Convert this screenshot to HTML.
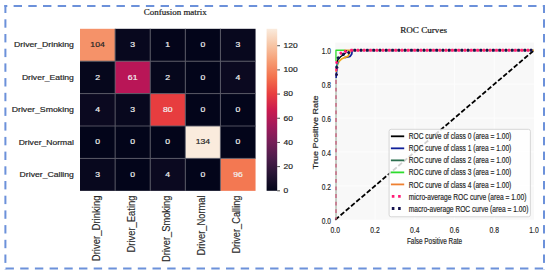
<!DOCTYPE html>
<html><head><meta charset="utf-8"><style>
html,body{margin:0;padding:0;background:#fff;width:550px;height:274px;overflow:hidden}
svg{display:block}
</style></head><body>
<svg width="550" height="274" viewBox="0 0 550 274">
<rect x="0" y="0" width="550" height="274" fill="#ffffff"/>
<rect x="4.40" y="5.00" width="2.90" height="2.0" fill="#6c91da"/>
<rect x="13.60" y="5.00" width="8.40" height="2.0" fill="#6c91da"/>
<rect x="28.30" y="5.00" width="8.40" height="2.0" fill="#6c91da"/>
<rect x="43.00" y="5.00" width="8.40" height="2.0" fill="#6c91da"/>
<rect x="57.70" y="5.00" width="8.40" height="2.0" fill="#6c91da"/>
<rect x="72.40" y="5.00" width="8.40" height="2.0" fill="#6c91da"/>
<rect x="87.10" y="5.00" width="8.40" height="2.0" fill="#6c91da"/>
<rect x="101.80" y="5.00" width="8.40" height="2.0" fill="#6c91da"/>
<rect x="116.50" y="5.00" width="8.40" height="2.0" fill="#6c91da"/>
<rect x="131.20" y="5.00" width="8.40" height="2.0" fill="#6c91da"/>
<rect x="145.90" y="5.00" width="8.40" height="2.0" fill="#6c91da"/>
<rect x="160.60" y="5.00" width="8.40" height="2.0" fill="#6c91da"/>
<rect x="175.30" y="5.00" width="8.40" height="2.0" fill="#6c91da"/>
<rect x="190.00" y="5.00" width="8.40" height="2.0" fill="#6c91da"/>
<rect x="204.70" y="5.00" width="8.40" height="2.0" fill="#6c91da"/>
<rect x="219.40" y="5.00" width="8.40" height="2.0" fill="#6c91da"/>
<rect x="234.10" y="5.00" width="8.40" height="2.0" fill="#6c91da"/>
<rect x="248.80" y="5.00" width="8.40" height="2.0" fill="#6c91da"/>
<rect x="263.50" y="5.00" width="8.40" height="2.0" fill="#6c91da"/>
<rect x="278.20" y="5.00" width="8.40" height="2.0" fill="#6c91da"/>
<rect x="292.90" y="5.00" width="8.40" height="2.0" fill="#6c91da"/>
<rect x="307.60" y="5.00" width="8.40" height="2.0" fill="#6c91da"/>
<rect x="322.30" y="5.00" width="8.40" height="2.0" fill="#6c91da"/>
<rect x="337.00" y="5.00" width="8.40" height="2.0" fill="#6c91da"/>
<rect x="351.70" y="5.00" width="8.40" height="2.0" fill="#6c91da"/>
<rect x="366.40" y="5.00" width="8.40" height="2.0" fill="#6c91da"/>
<rect x="381.10" y="5.00" width="8.40" height="2.0" fill="#6c91da"/>
<rect x="395.80" y="5.00" width="8.40" height="2.0" fill="#6c91da"/>
<rect x="410.50" y="5.00" width="8.40" height="2.0" fill="#6c91da"/>
<rect x="425.20" y="5.00" width="8.40" height="2.0" fill="#6c91da"/>
<rect x="439.90" y="5.00" width="8.40" height="2.0" fill="#6c91da"/>
<rect x="454.60" y="5.00" width="8.40" height="2.0" fill="#6c91da"/>
<rect x="469.30" y="5.00" width="8.40" height="2.0" fill="#6c91da"/>
<rect x="484.00" y="5.00" width="8.40" height="2.0" fill="#6c91da"/>
<rect x="498.70" y="5.00" width="8.40" height="2.0" fill="#6c91da"/>
<rect x="513.40" y="5.00" width="8.40" height="2.0" fill="#6c91da"/>
<rect x="528.10" y="5.00" width="8.40" height="2.0" fill="#6c91da"/>
<rect x="542.80" y="5.00" width="2.20" height="2.0" fill="#6c91da"/>
<rect x="5.50" y="267.50" width="8.40" height="2.0" fill="#6c91da"/>
<rect x="20.20" y="267.50" width="8.40" height="2.0" fill="#6c91da"/>
<rect x="34.90" y="267.50" width="8.40" height="2.0" fill="#6c91da"/>
<rect x="49.60" y="267.50" width="8.40" height="2.0" fill="#6c91da"/>
<rect x="64.30" y="267.50" width="8.40" height="2.0" fill="#6c91da"/>
<rect x="79.00" y="267.50" width="8.40" height="2.0" fill="#6c91da"/>
<rect x="93.70" y="267.50" width="8.40" height="2.0" fill="#6c91da"/>
<rect x="108.40" y="267.50" width="8.40" height="2.0" fill="#6c91da"/>
<rect x="123.10" y="267.50" width="8.40" height="2.0" fill="#6c91da"/>
<rect x="137.80" y="267.50" width="8.40" height="2.0" fill="#6c91da"/>
<rect x="152.50" y="267.50" width="8.40" height="2.0" fill="#6c91da"/>
<rect x="167.20" y="267.50" width="8.40" height="2.0" fill="#6c91da"/>
<rect x="181.90" y="267.50" width="8.40" height="2.0" fill="#6c91da"/>
<rect x="196.60" y="267.50" width="8.40" height="2.0" fill="#6c91da"/>
<rect x="211.30" y="267.50" width="8.40" height="2.0" fill="#6c91da"/>
<rect x="226.00" y="267.50" width="8.40" height="2.0" fill="#6c91da"/>
<rect x="240.70" y="267.50" width="8.40" height="2.0" fill="#6c91da"/>
<rect x="255.40" y="267.50" width="8.40" height="2.0" fill="#6c91da"/>
<rect x="270.10" y="267.50" width="8.40" height="2.0" fill="#6c91da"/>
<rect x="284.80" y="267.50" width="8.40" height="2.0" fill="#6c91da"/>
<rect x="299.50" y="267.50" width="8.40" height="2.0" fill="#6c91da"/>
<rect x="314.20" y="267.50" width="8.40" height="2.0" fill="#6c91da"/>
<rect x="328.90" y="267.50" width="8.40" height="2.0" fill="#6c91da"/>
<rect x="343.60" y="267.50" width="8.40" height="2.0" fill="#6c91da"/>
<rect x="358.30" y="267.50" width="8.40" height="2.0" fill="#6c91da"/>
<rect x="373.00" y="267.50" width="8.40" height="2.0" fill="#6c91da"/>
<rect x="387.70" y="267.50" width="8.40" height="2.0" fill="#6c91da"/>
<rect x="402.40" y="267.50" width="8.40" height="2.0" fill="#6c91da"/>
<rect x="417.10" y="267.50" width="8.40" height="2.0" fill="#6c91da"/>
<rect x="431.80" y="267.50" width="8.40" height="2.0" fill="#6c91da"/>
<rect x="446.50" y="267.50" width="8.40" height="2.0" fill="#6c91da"/>
<rect x="461.20" y="267.50" width="8.40" height="2.0" fill="#6c91da"/>
<rect x="475.90" y="267.50" width="8.40" height="2.0" fill="#6c91da"/>
<rect x="490.60" y="267.50" width="8.40" height="2.0" fill="#6c91da"/>
<rect x="505.30" y="267.50" width="8.40" height="2.0" fill="#6c91da"/>
<rect x="520.00" y="267.50" width="8.40" height="2.0" fill="#6c91da"/>
<rect x="534.70" y="267.50" width="8.40" height="2.0" fill="#6c91da"/>
<rect x="4.40" y="5.00" width="2.0" height="8.00" fill="#6c91da"/>
<rect x="4.40" y="19.30" width="2.0" height="8.40" fill="#6c91da"/>
<rect x="4.40" y="34.00" width="2.0" height="8.40" fill="#6c91da"/>
<rect x="4.40" y="48.70" width="2.0" height="8.40" fill="#6c91da"/>
<rect x="4.40" y="63.40" width="2.0" height="8.40" fill="#6c91da"/>
<rect x="4.40" y="78.10" width="2.0" height="8.40" fill="#6c91da"/>
<rect x="4.40" y="92.80" width="2.0" height="8.40" fill="#6c91da"/>
<rect x="4.40" y="107.50" width="2.0" height="8.40" fill="#6c91da"/>
<rect x="4.40" y="122.20" width="2.0" height="8.40" fill="#6c91da"/>
<rect x="4.40" y="136.90" width="2.0" height="8.40" fill="#6c91da"/>
<rect x="4.40" y="151.60" width="2.0" height="8.40" fill="#6c91da"/>
<rect x="4.40" y="166.30" width="2.0" height="8.40" fill="#6c91da"/>
<rect x="4.40" y="181.00" width="2.0" height="8.40" fill="#6c91da"/>
<rect x="4.40" y="195.70" width="2.0" height="8.40" fill="#6c91da"/>
<rect x="4.40" y="210.40" width="2.0" height="8.40" fill="#6c91da"/>
<rect x="4.40" y="225.10" width="2.0" height="8.40" fill="#6c91da"/>
<rect x="4.40" y="239.80" width="2.0" height="8.40" fill="#6c91da"/>
<rect x="4.40" y="254.50" width="2.0" height="8.40" fill="#6c91da"/>
<rect x="4.40" y="269.20" width="2.0" height="0.30" fill="#6c91da"/>
<rect x="543.00" y="5.00" width="2.0" height="8.00" fill="#6c91da"/>
<rect x="543.00" y="19.30" width="2.0" height="8.40" fill="#6c91da"/>
<rect x="543.00" y="34.00" width="2.0" height="8.40" fill="#6c91da"/>
<rect x="543.00" y="48.70" width="2.0" height="8.40" fill="#6c91da"/>
<rect x="543.00" y="63.40" width="2.0" height="8.40" fill="#6c91da"/>
<rect x="543.00" y="78.10" width="2.0" height="8.40" fill="#6c91da"/>
<rect x="543.00" y="92.80" width="2.0" height="8.40" fill="#6c91da"/>
<rect x="543.00" y="107.50" width="2.0" height="8.40" fill="#6c91da"/>
<rect x="543.00" y="122.20" width="2.0" height="8.40" fill="#6c91da"/>
<rect x="543.00" y="136.90" width="2.0" height="8.40" fill="#6c91da"/>
<rect x="543.00" y="151.60" width="2.0" height="8.40" fill="#6c91da"/>
<rect x="543.00" y="166.30" width="2.0" height="8.40" fill="#6c91da"/>
<rect x="543.00" y="181.00" width="2.0" height="8.40" fill="#6c91da"/>
<rect x="543.00" y="195.70" width="2.0" height="8.40" fill="#6c91da"/>
<rect x="543.00" y="210.40" width="2.0" height="8.40" fill="#6c91da"/>
<rect x="543.00" y="225.10" width="2.0" height="8.40" fill="#6c91da"/>
<rect x="543.00" y="239.80" width="2.0" height="8.40" fill="#6c91da"/>
<rect x="543.00" y="254.50" width="2.0" height="8.40" fill="#6c91da"/>
<rect x="543.00" y="269.20" width="2.0" height="0.30" fill="#6c91da"/>
<rect x="80.00" y="28.80" width="35.15" height="32.45" fill="#f59269"/>
<rect x="115.10" y="28.80" width="35.15" height="32.45" fill="#08081e"/>
<rect x="150.20" y="28.80" width="35.15" height="32.45" fill="#04051a"/>
<rect x="185.30" y="28.80" width="35.15" height="32.45" fill="#03051a"/>
<rect x="220.40" y="28.80" width="35.15" height="32.45" fill="#08081e"/>
<rect x="80.00" y="61.20" width="35.15" height="32.45" fill="#06071c"/>
<rect x="115.10" y="61.20" width="35.15" height="32.45" fill="#b91657"/>
<rect x="150.20" y="61.20" width="35.15" height="32.45" fill="#06071c"/>
<rect x="185.30" y="61.20" width="35.15" height="32.45" fill="#03051a"/>
<rect x="220.40" y="61.20" width="35.15" height="32.45" fill="#0b0920"/>
<rect x="80.00" y="93.60" width="35.15" height="32.45" fill="#0b0920"/>
<rect x="115.10" y="93.60" width="35.15" height="32.45" fill="#08081e"/>
<rect x="150.20" y="93.60" width="35.15" height="32.45" fill="#e73d3f"/>
<rect x="185.30" y="93.60" width="35.15" height="32.45" fill="#03051a"/>
<rect x="220.40" y="93.60" width="35.15" height="32.45" fill="#03051a"/>
<rect x="80.00" y="126.00" width="35.15" height="32.45" fill="#03051a"/>
<rect x="115.10" y="126.00" width="35.15" height="32.45" fill="#03051a"/>
<rect x="150.20" y="126.00" width="35.15" height="32.45" fill="#03051a"/>
<rect x="185.30" y="126.00" width="35.15" height="32.45" fill="#faebdd"/>
<rect x="220.40" y="126.00" width="35.15" height="32.45" fill="#03051a"/>
<rect x="80.00" y="158.40" width="35.15" height="32.45" fill="#08081e"/>
<rect x="115.10" y="158.40" width="35.15" height="32.45" fill="#03051a"/>
<rect x="150.20" y="158.40" width="35.15" height="32.45" fill="#0b0920"/>
<rect x="185.30" y="158.40" width="35.15" height="32.45" fill="#03051a"/>
<rect x="220.40" y="158.40" width="35.15" height="32.45" fill="#f37852"/>
<line x1="115.10" y1="28.8" x2="115.10" y2="190.80" stroke="#5a5a66" stroke-width="0.9"/>
<line x1="150.20" y1="28.8" x2="150.20" y2="190.80" stroke="#5a5a66" stroke-width="0.9"/>
<line x1="185.30" y1="28.8" x2="185.30" y2="190.80" stroke="#5a5a66" stroke-width="0.9"/>
<line x1="220.40" y1="28.8" x2="220.40" y2="190.80" stroke="#5a5a66" stroke-width="0.9"/>
<line x1="80.0" y1="61.20" x2="255.50" y2="61.20" stroke="#5a5a66" stroke-width="0.9"/>
<line x1="80.0" y1="93.60" x2="255.50" y2="93.60" stroke="#5a5a66" stroke-width="0.9"/>
<line x1="80.0" y1="126.00" x2="255.50" y2="126.00" stroke="#5a5a66" stroke-width="0.9"/>
<line x1="80.0" y1="158.40" x2="255.50" y2="158.40" stroke="#5a5a66" stroke-width="0.9"/>
<text x="97.55" y="47.20" text-anchor="middle" style="font-family:&quot;Liberation Sans&quot;,sans-serif;font-size:7.3px;font-weight:normal" fill="#262626" stroke="#262626" stroke-width="0.18" textLength="14.40" lengthAdjust="spacingAndGlyphs">104</text>
<text x="132.65" y="47.20" text-anchor="middle" style="font-family:&quot;Liberation Sans&quot;,sans-serif;font-size:7.3px;font-weight:normal" fill="#f2f2f2" stroke="#f2f2f2" stroke-width="0.18" textLength="4.80" lengthAdjust="spacingAndGlyphs">3</text>
<text x="167.75" y="47.20" text-anchor="middle" style="font-family:&quot;Liberation Sans&quot;,sans-serif;font-size:7.3px;font-weight:normal" fill="#f2f2f2" stroke="#f2f2f2" stroke-width="0.18" textLength="4.80" lengthAdjust="spacingAndGlyphs">1</text>
<text x="202.85" y="47.20" text-anchor="middle" style="font-family:&quot;Liberation Sans&quot;,sans-serif;font-size:7.3px;font-weight:normal" fill="#f2f2f2" stroke="#f2f2f2" stroke-width="0.18" textLength="4.80" lengthAdjust="spacingAndGlyphs">0</text>
<text x="237.95" y="47.20" text-anchor="middle" style="font-family:&quot;Liberation Sans&quot;,sans-serif;font-size:7.3px;font-weight:normal" fill="#f2f2f2" stroke="#f2f2f2" stroke-width="0.18" textLength="4.80" lengthAdjust="spacingAndGlyphs">3</text>
<text x="97.55" y="79.60" text-anchor="middle" style="font-family:&quot;Liberation Sans&quot;,sans-serif;font-size:7.3px;font-weight:normal" fill="#f2f2f2" stroke="#f2f2f2" stroke-width="0.18" textLength="4.80" lengthAdjust="spacingAndGlyphs">2</text>
<text x="132.65" y="79.60" text-anchor="middle" style="font-family:&quot;Liberation Sans&quot;,sans-serif;font-size:7.3px;font-weight:normal" fill="#f2f2f2" stroke="#f2f2f2" stroke-width="0.18" textLength="9.60" lengthAdjust="spacingAndGlyphs">61</text>
<text x="167.75" y="79.60" text-anchor="middle" style="font-family:&quot;Liberation Sans&quot;,sans-serif;font-size:7.3px;font-weight:normal" fill="#f2f2f2" stroke="#f2f2f2" stroke-width="0.18" textLength="4.80" lengthAdjust="spacingAndGlyphs">2</text>
<text x="202.85" y="79.60" text-anchor="middle" style="font-family:&quot;Liberation Sans&quot;,sans-serif;font-size:7.3px;font-weight:normal" fill="#f2f2f2" stroke="#f2f2f2" stroke-width="0.18" textLength="4.80" lengthAdjust="spacingAndGlyphs">0</text>
<text x="237.95" y="79.60" text-anchor="middle" style="font-family:&quot;Liberation Sans&quot;,sans-serif;font-size:7.3px;font-weight:normal" fill="#f2f2f2" stroke="#f2f2f2" stroke-width="0.18" textLength="4.80" lengthAdjust="spacingAndGlyphs">4</text>
<text x="97.55" y="112.00" text-anchor="middle" style="font-family:&quot;Liberation Sans&quot;,sans-serif;font-size:7.3px;font-weight:normal" fill="#f2f2f2" stroke="#f2f2f2" stroke-width="0.18" textLength="4.80" lengthAdjust="spacingAndGlyphs">4</text>
<text x="132.65" y="112.00" text-anchor="middle" style="font-family:&quot;Liberation Sans&quot;,sans-serif;font-size:7.3px;font-weight:normal" fill="#f2f2f2" stroke="#f2f2f2" stroke-width="0.18" textLength="4.80" lengthAdjust="spacingAndGlyphs">3</text>
<text x="167.75" y="112.00" text-anchor="middle" style="font-family:&quot;Liberation Sans&quot;,sans-serif;font-size:7.3px;font-weight:normal" fill="#f2f2f2" stroke="#f2f2f2" stroke-width="0.18" textLength="9.60" lengthAdjust="spacingAndGlyphs">80</text>
<text x="202.85" y="112.00" text-anchor="middle" style="font-family:&quot;Liberation Sans&quot;,sans-serif;font-size:7.3px;font-weight:normal" fill="#f2f2f2" stroke="#f2f2f2" stroke-width="0.18" textLength="4.80" lengthAdjust="spacingAndGlyphs">0</text>
<text x="237.95" y="112.00" text-anchor="middle" style="font-family:&quot;Liberation Sans&quot;,sans-serif;font-size:7.3px;font-weight:normal" fill="#f2f2f2" stroke="#f2f2f2" stroke-width="0.18" textLength="4.80" lengthAdjust="spacingAndGlyphs">0</text>
<text x="97.55" y="144.40" text-anchor="middle" style="font-family:&quot;Liberation Sans&quot;,sans-serif;font-size:7.3px;font-weight:normal" fill="#f2f2f2" stroke="#f2f2f2" stroke-width="0.18" textLength="4.80" lengthAdjust="spacingAndGlyphs">0</text>
<text x="132.65" y="144.40" text-anchor="middle" style="font-family:&quot;Liberation Sans&quot;,sans-serif;font-size:7.3px;font-weight:normal" fill="#f2f2f2" stroke="#f2f2f2" stroke-width="0.18" textLength="4.80" lengthAdjust="spacingAndGlyphs">0</text>
<text x="167.75" y="144.40" text-anchor="middle" style="font-family:&quot;Liberation Sans&quot;,sans-serif;font-size:7.3px;font-weight:normal" fill="#f2f2f2" stroke="#f2f2f2" stroke-width="0.18" textLength="4.80" lengthAdjust="spacingAndGlyphs">0</text>
<text x="202.85" y="144.40" text-anchor="middle" style="font-family:&quot;Liberation Sans&quot;,sans-serif;font-size:7.3px;font-weight:normal" fill="#262626" stroke="#262626" stroke-width="0.18" textLength="14.40" lengthAdjust="spacingAndGlyphs">134</text>
<text x="237.95" y="144.40" text-anchor="middle" style="font-family:&quot;Liberation Sans&quot;,sans-serif;font-size:7.3px;font-weight:normal" fill="#f2f2f2" stroke="#f2f2f2" stroke-width="0.18" textLength="4.80" lengthAdjust="spacingAndGlyphs">0</text>
<text x="97.55" y="176.80" text-anchor="middle" style="font-family:&quot;Liberation Sans&quot;,sans-serif;font-size:7.3px;font-weight:normal" fill="#f2f2f2" stroke="#f2f2f2" stroke-width="0.18" textLength="4.80" lengthAdjust="spacingAndGlyphs">3</text>
<text x="132.65" y="176.80" text-anchor="middle" style="font-family:&quot;Liberation Sans&quot;,sans-serif;font-size:7.3px;font-weight:normal" fill="#f2f2f2" stroke="#f2f2f2" stroke-width="0.18" textLength="4.80" lengthAdjust="spacingAndGlyphs">0</text>
<text x="167.75" y="176.80" text-anchor="middle" style="font-family:&quot;Liberation Sans&quot;,sans-serif;font-size:7.3px;font-weight:normal" fill="#f2f2f2" stroke="#f2f2f2" stroke-width="0.18" textLength="4.80" lengthAdjust="spacingAndGlyphs">4</text>
<text x="202.85" y="176.80" text-anchor="middle" style="font-family:&quot;Liberation Sans&quot;,sans-serif;font-size:7.3px;font-weight:normal" fill="#f2f2f2" stroke="#f2f2f2" stroke-width="0.18" textLength="4.80" lengthAdjust="spacingAndGlyphs">0</text>
<text x="237.95" y="176.80" text-anchor="middle" style="font-family:&quot;Liberation Sans&quot;,sans-serif;font-size:7.3px;font-weight:normal" fill="#f2f2f2" stroke="#f2f2f2" stroke-width="0.18" textLength="9.60" lengthAdjust="spacingAndGlyphs">96</text>
<text x="14.10" y="47.45" text-anchor="start" style="font-family:&quot;Liberation Sans&quot;,sans-serif;font-size:7.1px;font-weight:normal" fill="#262626" stroke="#262626" stroke-width="0.18" textLength="59.80" lengthAdjust="spacingAndGlyphs">Driver_Drinking</text>
<text x="21.90" y="79.85" text-anchor="start" style="font-family:&quot;Liberation Sans&quot;,sans-serif;font-size:7.1px;font-weight:normal" fill="#262626" stroke="#262626" stroke-width="0.18" textLength="52.00" lengthAdjust="spacingAndGlyphs">Driver_Eating</text>
<text x="11.70" y="112.25" text-anchor="start" style="font-family:&quot;Liberation Sans&quot;,sans-serif;font-size:7.1px;font-weight:normal" fill="#262626" stroke="#262626" stroke-width="0.18" textLength="62.20" lengthAdjust="spacingAndGlyphs">Driver_Smoking</text>
<text x="18.70" y="144.65" text-anchor="start" style="font-family:&quot;Liberation Sans&quot;,sans-serif;font-size:7.1px;font-weight:normal" fill="#262626" stroke="#262626" stroke-width="0.18" textLength="55.20" lengthAdjust="spacingAndGlyphs">Driver_Normal</text>
<text x="19.60" y="177.05" text-anchor="start" style="font-family:&quot;Liberation Sans&quot;,sans-serif;font-size:7.1px;font-weight:normal" fill="#262626" stroke="#262626" stroke-width="0.18" textLength="54.30" lengthAdjust="spacingAndGlyphs">Driver_Calling</text>
<text transform="translate(99.95,261.20) rotate(-90)" x="0" y="0" style="font-family:&quot;Liberation Sans&quot;,sans-serif;font-size:10.3px" fill="#262626" stroke="#262626" stroke-width="0.12" textLength="65.70" lengthAdjust="spacingAndGlyphs">Driver_Drinking</text>
<text transform="translate(135.05,252.50) rotate(-90)" x="0" y="0" style="font-family:&quot;Liberation Sans&quot;,sans-serif;font-size:10.3px" fill="#262626" stroke="#262626" stroke-width="0.12" textLength="57.00" lengthAdjust="spacingAndGlyphs">Driver_Eating</text>
<text transform="translate(170.15,261.90) rotate(-90)" x="0" y="0" style="font-family:&quot;Liberation Sans&quot;,sans-serif;font-size:10.3px" fill="#262626" stroke="#262626" stroke-width="0.12" textLength="66.40" lengthAdjust="spacingAndGlyphs">Driver_Smoking</text>
<text transform="translate(205.25,255.50) rotate(-90)" x="0" y="0" style="font-family:&quot;Liberation Sans&quot;,sans-serif;font-size:10.3px" fill="#262626" stroke="#262626" stroke-width="0.12" textLength="60.00" lengthAdjust="spacingAndGlyphs">Driver_Normal</text>
<text transform="translate(240.35,253.60) rotate(-90)" x="0" y="0" style="font-family:&quot;Liberation Sans&quot;,sans-serif;font-size:10.3px" fill="#262626" stroke="#262626" stroke-width="0.12" textLength="58.10" lengthAdjust="spacingAndGlyphs">Driver_Calling</text>
<defs><linearGradient id="rk" x1="0" y1="1" x2="0" y2="0"><stop offset="0.0" stop-color="#03051a"/><stop offset="0.1" stop-color="#251433"/><stop offset="0.2" stop-color="#4c1d4b"/><stop offset="0.3" stop-color="#751f58"/><stop offset="0.4" stop-color="#a11a5b"/><stop offset="0.5" stop-color="#cb1b4f"/><stop offset="0.6" stop-color="#e83f3f"/><stop offset="0.7" stop-color="#f3714d"/><stop offset="0.8" stop-color="#f69c73"/><stop offset="0.9" stop-color="#f7c6a6"/><stop offset="1.0" stop-color="#faebdd"/></linearGradient></defs>
<rect x="266.6" y="28.8" width="10.60" height="162.00" fill="url(#rk)"/>
<line x1="277.2" y1="190.80" x2="280.00" y2="190.80" stroke="#262626" stroke-width="0.8"/>
<text x="283.60" y="193.20" text-anchor="start" style="font-family:&quot;Liberation Sans&quot;,sans-serif;font-size:6.9px;font-weight:normal" fill="#262626" stroke="#262626" stroke-width="0.18" textLength="4.70" lengthAdjust="spacingAndGlyphs">0</text>
<line x1="277.2" y1="166.62" x2="280.00" y2="166.62" stroke="#262626" stroke-width="0.8"/>
<text x="283.60" y="169.02" text-anchor="start" style="font-family:&quot;Liberation Sans&quot;,sans-serif;font-size:6.9px;font-weight:normal" fill="#262626" stroke="#262626" stroke-width="0.18" textLength="9.40" lengthAdjust="spacingAndGlyphs">20</text>
<line x1="277.2" y1="142.44" x2="280.00" y2="142.44" stroke="#262626" stroke-width="0.8"/>
<text x="283.60" y="144.84" text-anchor="start" style="font-family:&quot;Liberation Sans&quot;,sans-serif;font-size:6.9px;font-weight:normal" fill="#262626" stroke="#262626" stroke-width="0.18" textLength="9.40" lengthAdjust="spacingAndGlyphs">40</text>
<line x1="277.2" y1="118.26" x2="280.00" y2="118.26" stroke="#262626" stroke-width="0.8"/>
<text x="283.60" y="120.66" text-anchor="start" style="font-family:&quot;Liberation Sans&quot;,sans-serif;font-size:6.9px;font-weight:normal" fill="#262626" stroke="#262626" stroke-width="0.18" textLength="9.40" lengthAdjust="spacingAndGlyphs">60</text>
<line x1="277.2" y1="94.08" x2="280.00" y2="94.08" stroke="#262626" stroke-width="0.8"/>
<text x="283.60" y="96.48" text-anchor="start" style="font-family:&quot;Liberation Sans&quot;,sans-serif;font-size:6.9px;font-weight:normal" fill="#262626" stroke="#262626" stroke-width="0.18" textLength="9.40" lengthAdjust="spacingAndGlyphs">80</text>
<line x1="277.2" y1="69.90" x2="280.00" y2="69.90" stroke="#262626" stroke-width="0.8"/>
<text x="283.60" y="72.30" text-anchor="start" style="font-family:&quot;Liberation Sans&quot;,sans-serif;font-size:6.9px;font-weight:normal" fill="#262626" stroke="#262626" stroke-width="0.18" textLength="14.10" lengthAdjust="spacingAndGlyphs">100</text>
<line x1="277.2" y1="45.73" x2="280.00" y2="45.73" stroke="#262626" stroke-width="0.8"/>
<text x="283.60" y="48.13" text-anchor="start" style="font-family:&quot;Liberation Sans&quot;,sans-serif;font-size:6.9px;font-weight:normal" fill="#262626" stroke="#262626" stroke-width="0.18" textLength="14.10" lengthAdjust="spacingAndGlyphs">120</text>
<text x="143.80" y="14.80" text-anchor="start" style="font-family:&quot;Liberation Serif&quot;,serif;font-size:9.2px;font-weight:normal" fill="#1a1a1a" stroke="#1a1a1a" stroke-width="0.2" textLength="63.00" lengthAdjust="spacingAndGlyphs">Confusion matrix</text>
<rect x="335.3" y="42.6" width="198.70" height="177.10" fill="#f8f8f8"/>
<line x1="375.04" y1="42.6" x2="375.04" y2="219.7" stroke="#fdfdfd" stroke-width="1"/>
<line x1="414.78" y1="42.6" x2="414.78" y2="219.7" stroke="#fdfdfd" stroke-width="1"/>
<line x1="454.52" y1="42.6" x2="454.52" y2="219.7" stroke="#fdfdfd" stroke-width="1"/>
<line x1="494.26" y1="42.6" x2="494.26" y2="219.7" stroke="#fdfdfd" stroke-width="1"/>
<line x1="335.3" y1="185.82" x2="534.0" y2="185.82" stroke="#fdfdfd" stroke-width="1"/>
<line x1="335.3" y1="151.94" x2="534.0" y2="151.94" stroke="#fdfdfd" stroke-width="1"/>
<line x1="335.3" y1="118.06" x2="534.0" y2="118.06" stroke="#fdfdfd" stroke-width="1"/>
<line x1="335.3" y1="84.18" x2="534.0" y2="84.18" stroke="#fdfdfd" stroke-width="1"/>
<line x1="335.3" y1="50.30" x2="534.0" y2="50.30" stroke="#fdfdfd" stroke-width="1"/>
<line x1="335.30" y1="219.70" x2="534.00" y2="50.30" stroke="#000" stroke-width="1.8" stroke-dasharray="4.8 2.1"/>
<defs><clipPath id="pc"><rect x="335.3" y="37.6" width="201.70" height="182.10"/></clipPath></defs><g clip-path="url(#pc)">
<line x1="335.9" y1="219.7" x2="335.9" y2="74" stroke="#9aab9a" stroke-width="1.3"/>
<line x1="335.9" y1="219.7" x2="335.9" y2="74" stroke="#c8406a" stroke-width="1.3" stroke-dasharray="3.8 3.8" stroke-dashoffset="1.0"/>
<line x1="344" y1="50.30" x2="534.00" y2="50.30" stroke="#e0a030" stroke-width="1.6"/>
<polyline points="335.80,61.00 335.80,50.30 344.50,50.30" fill="none" stroke="#2edc2e" stroke-width="1.6" stroke-linejoin="round"/>
<polyline points="336.00,78.00 336.60,71.00 337.40,67.50" fill="none" stroke="#10209a" stroke-width="1.8" stroke-linejoin="round"/>
<polyline points="344.50,57.60 350.20,56.30 351.80,54.00 352.20,50.30" fill="none" stroke="#10209a" stroke-width="1.7" stroke-linejoin="round"/>
<polyline points="335.90,72.00 337.00,66.00 339.00,61.50 342.00,58.70 345.00,57.40 348.00,56.20 349.50,53.00 350.00,50.30" fill="none" stroke="#f0a818" stroke-width="1.7" stroke-linejoin="round"/>
<polyline points="335.90,68.50 337.00,64.50 338.50,61.50" fill="none" stroke="#18a8a8" stroke-width="1.7" stroke-linejoin="round"/>
<polyline points="336.60,63.50 338.00,59.50 340.50,56.80 343.00,55.00 345.50,53.00 346.50,50.30" fill="none" stroke="#000000" stroke-width="1.4" stroke-linejoin="round"/>
<rect x="334.55" y="68.00" width="2.7" height="3.0" rx="0.6" fill="#ff1a75" transform="rotate(-40 335.90 69.50)"/>
<rect x="335.05" y="61.00" width="2.7" height="3.0" rx="0.6" fill="#ff1a75" transform="rotate(-40 336.40 62.50)"/>
<rect x="339.65" y="51.70" width="2.7" height="3.0" rx="0.6" fill="#ff1a75" transform="rotate(-40 341.00 53.20)"/>
<rect x="344.15" y="50.00" width="2.7" height="3.0" rx="0.6" fill="#ff1a75" transform="rotate(-40 345.50 51.50)"/>
<rect x="334.95" y="73.00" width="2.7" height="3.0" rx="0.6" fill="#14124e" transform="rotate(-40 336.30 74.50)"/>
<rect x="335.35" y="65.70" width="2.7" height="3.0" rx="0.6" fill="#14124e" transform="rotate(-40 336.70 67.20)"/>
<rect x="336.95" y="56.50" width="2.7" height="3.0" rx="0.6" fill="#14124e" transform="rotate(-40 338.30 58.00)"/>
<rect x="342.05" y="52.80" width="2.7" height="3.0" rx="0.6" fill="#14124e" transform="rotate(-40 343.40 54.30)"/>
<rect x="347.35" y="51.10" width="2.7" height="3.0" rx="0.6" fill="#14124e" transform="rotate(-40 348.70 52.60)"/>
<rect x="350.25" y="48.80" width="2.7" height="3.0" rx="0.6" fill="#ff1a75" transform="rotate(0 351.60 50.30)"/>
<rect x="356.55" y="48.80" width="2.7" height="3.0" rx="0.6" fill="#ff1a75" transform="rotate(0 357.90 50.30)"/>
<rect x="362.85" y="48.80" width="2.7" height="3.0" rx="0.6" fill="#ff1a75" transform="rotate(0 364.20 50.30)"/>
<rect x="369.15" y="48.80" width="2.7" height="3.0" rx="0.6" fill="#ff1a75" transform="rotate(0 370.50 50.30)"/>
<rect x="375.45" y="48.80" width="2.7" height="3.0" rx="0.6" fill="#ff1a75" transform="rotate(0 376.80 50.30)"/>
<rect x="381.75" y="48.80" width="2.7" height="3.0" rx="0.6" fill="#ff1a75" transform="rotate(0 383.10 50.30)"/>
<rect x="388.05" y="48.80" width="2.7" height="3.0" rx="0.6" fill="#ff1a75" transform="rotate(0 389.40 50.30)"/>
<rect x="394.35" y="48.80" width="2.7" height="3.0" rx="0.6" fill="#ff1a75" transform="rotate(0 395.70 50.30)"/>
<rect x="400.65" y="48.80" width="2.7" height="3.0" rx="0.6" fill="#ff1a75" transform="rotate(0 402.00 50.30)"/>
<rect x="406.95" y="48.80" width="2.7" height="3.0" rx="0.6" fill="#ff1a75" transform="rotate(0 408.30 50.30)"/>
<rect x="413.25" y="48.80" width="2.7" height="3.0" rx="0.6" fill="#ff1a75" transform="rotate(0 414.60 50.30)"/>
<rect x="419.55" y="48.80" width="2.7" height="3.0" rx="0.6" fill="#ff1a75" transform="rotate(0 420.90 50.30)"/>
<rect x="425.85" y="48.80" width="2.7" height="3.0" rx="0.6" fill="#ff1a75" transform="rotate(0 427.20 50.30)"/>
<rect x="432.15" y="48.80" width="2.7" height="3.0" rx="0.6" fill="#ff1a75" transform="rotate(0 433.50 50.30)"/>
<rect x="438.45" y="48.80" width="2.7" height="3.0" rx="0.6" fill="#ff1a75" transform="rotate(0 439.80 50.30)"/>
<rect x="444.75" y="48.80" width="2.7" height="3.0" rx="0.6" fill="#ff1a75" transform="rotate(0 446.10 50.30)"/>
<rect x="451.05" y="48.80" width="2.7" height="3.0" rx="0.6" fill="#ff1a75" transform="rotate(0 452.40 50.30)"/>
<rect x="457.35" y="48.80" width="2.7" height="3.0" rx="0.6" fill="#ff1a75" transform="rotate(0 458.70 50.30)"/>
<rect x="463.65" y="48.80" width="2.7" height="3.0" rx="0.6" fill="#ff1a75" transform="rotate(0 465.00 50.30)"/>
<rect x="469.95" y="48.80" width="2.7" height="3.0" rx="0.6" fill="#ff1a75" transform="rotate(0 471.30 50.30)"/>
<rect x="476.25" y="48.80" width="2.7" height="3.0" rx="0.6" fill="#ff1a75" transform="rotate(0 477.60 50.30)"/>
<rect x="482.55" y="48.80" width="2.7" height="3.0" rx="0.6" fill="#ff1a75" transform="rotate(0 483.90 50.30)"/>
<rect x="488.85" y="48.80" width="2.7" height="3.0" rx="0.6" fill="#ff1a75" transform="rotate(0 490.20 50.30)"/>
<rect x="495.15" y="48.80" width="2.7" height="3.0" rx="0.6" fill="#ff1a75" transform="rotate(0 496.50 50.30)"/>
<rect x="501.45" y="48.80" width="2.7" height="3.0" rx="0.6" fill="#ff1a75" transform="rotate(0 502.80 50.30)"/>
<rect x="507.75" y="48.80" width="2.7" height="3.0" rx="0.6" fill="#ff1a75" transform="rotate(0 509.10 50.30)"/>
<rect x="514.05" y="48.80" width="2.7" height="3.0" rx="0.6" fill="#ff1a75" transform="rotate(0 515.40 50.30)"/>
<rect x="520.35" y="48.80" width="2.7" height="3.0" rx="0.6" fill="#ff1a75" transform="rotate(0 521.70 50.30)"/>
<rect x="526.65" y="48.80" width="2.7" height="3.0" rx="0.6" fill="#ff1a75" transform="rotate(0 528.00 50.30)"/>
<rect x="353.40" y="48.80" width="2.7" height="3.0" rx="0.6" fill="#14124e" transform="rotate(0 354.75 50.30)"/>
<rect x="359.70" y="48.80" width="2.7" height="3.0" rx="0.6" fill="#14124e" transform="rotate(0 361.05 50.30)"/>
<rect x="366.00" y="48.80" width="2.7" height="3.0" rx="0.6" fill="#14124e" transform="rotate(0 367.35 50.30)"/>
<rect x="372.30" y="48.80" width="2.7" height="3.0" rx="0.6" fill="#14124e" transform="rotate(0 373.65 50.30)"/>
<rect x="378.60" y="48.80" width="2.7" height="3.0" rx="0.6" fill="#14124e" transform="rotate(0 379.95 50.30)"/>
<rect x="384.90" y="48.80" width="2.7" height="3.0" rx="0.6" fill="#14124e" transform="rotate(0 386.25 50.30)"/>
<rect x="391.20" y="48.80" width="2.7" height="3.0" rx="0.6" fill="#14124e" transform="rotate(0 392.55 50.30)"/>
<rect x="397.50" y="48.80" width="2.7" height="3.0" rx="0.6" fill="#14124e" transform="rotate(0 398.85 50.30)"/>
<rect x="403.80" y="48.80" width="2.7" height="3.0" rx="0.6" fill="#14124e" transform="rotate(0 405.15 50.30)"/>
<rect x="410.10" y="48.80" width="2.7" height="3.0" rx="0.6" fill="#14124e" transform="rotate(0 411.45 50.30)"/>
<rect x="416.40" y="48.80" width="2.7" height="3.0" rx="0.6" fill="#14124e" transform="rotate(0 417.75 50.30)"/>
<rect x="422.70" y="48.80" width="2.7" height="3.0" rx="0.6" fill="#14124e" transform="rotate(0 424.05 50.30)"/>
<rect x="429.00" y="48.80" width="2.7" height="3.0" rx="0.6" fill="#14124e" transform="rotate(0 430.35 50.30)"/>
<rect x="435.30" y="48.80" width="2.7" height="3.0" rx="0.6" fill="#14124e" transform="rotate(0 436.65 50.30)"/>
<rect x="441.60" y="48.80" width="2.7" height="3.0" rx="0.6" fill="#14124e" transform="rotate(0 442.95 50.30)"/>
<rect x="447.90" y="48.80" width="2.7" height="3.0" rx="0.6" fill="#14124e" transform="rotate(0 449.25 50.30)"/>
<rect x="454.20" y="48.80" width="2.7" height="3.0" rx="0.6" fill="#14124e" transform="rotate(0 455.55 50.30)"/>
<rect x="460.50" y="48.80" width="2.7" height="3.0" rx="0.6" fill="#14124e" transform="rotate(0 461.85 50.30)"/>
<rect x="466.80" y="48.80" width="2.7" height="3.0" rx="0.6" fill="#14124e" transform="rotate(0 468.15 50.30)"/>
<rect x="473.10" y="48.80" width="2.7" height="3.0" rx="0.6" fill="#14124e" transform="rotate(0 474.45 50.30)"/>
<rect x="479.40" y="48.80" width="2.7" height="3.0" rx="0.6" fill="#14124e" transform="rotate(0 480.75 50.30)"/>
<rect x="485.70" y="48.80" width="2.7" height="3.0" rx="0.6" fill="#14124e" transform="rotate(0 487.05 50.30)"/>
<rect x="492.00" y="48.80" width="2.7" height="3.0" rx="0.6" fill="#14124e" transform="rotate(0 493.35 50.30)"/>
<rect x="498.30" y="48.80" width="2.7" height="3.0" rx="0.6" fill="#14124e" transform="rotate(0 499.65 50.30)"/>
<rect x="504.60" y="48.80" width="2.7" height="3.0" rx="0.6" fill="#14124e" transform="rotate(0 505.95 50.30)"/>
<rect x="510.90" y="48.80" width="2.7" height="3.0" rx="0.6" fill="#14124e" transform="rotate(0 512.25 50.30)"/>
<rect x="517.20" y="48.80" width="2.7" height="3.0" rx="0.6" fill="#14124e" transform="rotate(0 518.55 50.30)"/>
<rect x="523.50" y="48.80" width="2.7" height="3.0" rx="0.6" fill="#14124e" transform="rotate(0 524.85 50.30)"/>
<rect x="529.80" y="48.80" width="2.7" height="3.0" rx="0.6" fill="#14124e" transform="rotate(0 531.15 50.30)"/>
</g>
<rect x="389.1" y="129.3" width="141.3" height="87.5" rx="2" ry="2" fill="#ffffff" fill-opacity="0.82" stroke="#d2d2d2" stroke-width="0.9"/>
<line x1="390.9" y1="136.30" x2="404.2" y2="136.30" stroke="#000000" stroke-width="1.8"/>
<text x="408.80" y="139.40" text-anchor="start" style="font-family:&quot;Liberation Sans&quot;,sans-serif;font-size:8.4px;font-weight:normal" fill="#262626" stroke="#262626" stroke-width="0.18" textLength="102.50" lengthAdjust="spacingAndGlyphs">ROC curve of class 0 (area = 1.00)</text>
<line x1="390.9" y1="148.33" x2="404.2" y2="148.33" stroke="#10209a" stroke-width="1.8"/>
<text x="408.80" y="151.43" text-anchor="start" style="font-family:&quot;Liberation Sans&quot;,sans-serif;font-size:8.4px;font-weight:normal" fill="#262626" stroke="#262626" stroke-width="0.18" textLength="102.50" lengthAdjust="spacingAndGlyphs">ROC curve of class 1 (area = 1.00)</text>
<line x1="390.9" y1="160.36" x2="404.2" y2="160.36" stroke="#2b6e4e" stroke-width="1.8"/>
<text x="408.80" y="163.46" text-anchor="start" style="font-family:&quot;Liberation Sans&quot;,sans-serif;font-size:8.4px;font-weight:normal" fill="#262626" stroke="#262626" stroke-width="0.18" textLength="102.50" lengthAdjust="spacingAndGlyphs">ROC curve of class 2 (area = 1.00)</text>
<line x1="390.9" y1="172.39" x2="404.2" y2="172.39" stroke="#2edc2e" stroke-width="1.8"/>
<text x="408.80" y="175.49" text-anchor="start" style="font-family:&quot;Liberation Sans&quot;,sans-serif;font-size:8.4px;font-weight:normal" fill="#262626" stroke="#262626" stroke-width="0.18" textLength="102.50" lengthAdjust="spacingAndGlyphs">ROC curve of class 3 (area = 1.00)</text>
<line x1="390.9" y1="184.42" x2="404.2" y2="184.42" stroke="#ee8030" stroke-width="1.8"/>
<text x="408.80" y="187.52" text-anchor="start" style="font-family:&quot;Liberation Sans&quot;,sans-serif;font-size:8.4px;font-weight:normal" fill="#262626" stroke="#262626" stroke-width="0.18" textLength="102.50" lengthAdjust="spacingAndGlyphs">ROC curve of class 4 (area = 1.00)</text>
<line x1="391.2" y1="196.45" x2="404.2" y2="196.45" stroke="#ff1a75" stroke-width="2.8" stroke-dasharray="2.6 3.7" stroke-dashoffset="-0.6"/>
<text x="408.80" y="199.55" text-anchor="start" style="font-family:&quot;Liberation Sans&quot;,sans-serif;font-size:8.4px;font-weight:normal" fill="#262626" stroke="#262626" stroke-width="0.18" textLength="117.60" lengthAdjust="spacingAndGlyphs">micro-average ROC curve (area = 1.00)</text>
<line x1="391.2" y1="208.48" x2="404.2" y2="208.48" stroke="#14124e" stroke-width="2.8" stroke-dasharray="2.6 3.7" stroke-dashoffset="-0.6"/>
<text x="408.80" y="211.58" text-anchor="start" style="font-family:&quot;Liberation Sans&quot;,sans-serif;font-size:8.4px;font-weight:normal" fill="#262626" stroke="#262626" stroke-width="0.18" textLength="119.60" lengthAdjust="spacingAndGlyphs">macro-average ROC curve (area = 1.00)</text>
<text x="335.30" y="233.00" text-anchor="middle" style="font-family:&quot;Liberation Sans&quot;,sans-serif;font-size:8.8px;font-weight:normal" fill="#262626" stroke="#262626" stroke-width="0.18" textLength="9.40" lengthAdjust="spacingAndGlyphs">0.0</text>
<text x="331.00" y="223.90" text-anchor="end" style="font-family:&quot;Liberation Sans&quot;,sans-serif;font-size:8.8px;font-weight:normal" fill="#262626" stroke="#262626" stroke-width="0.18" textLength="9.20" lengthAdjust="spacingAndGlyphs">0.0</text>
<text x="375.04" y="233.00" text-anchor="middle" style="font-family:&quot;Liberation Sans&quot;,sans-serif;font-size:8.8px;font-weight:normal" fill="#262626" stroke="#262626" stroke-width="0.18" textLength="9.40" lengthAdjust="spacingAndGlyphs">0.2</text>
<text x="331.00" y="189.92" text-anchor="end" style="font-family:&quot;Liberation Sans&quot;,sans-serif;font-size:8.8px;font-weight:normal" fill="#262626" stroke="#262626" stroke-width="0.18" textLength="9.20" lengthAdjust="spacingAndGlyphs">0.2</text>
<text x="414.78" y="233.00" text-anchor="middle" style="font-family:&quot;Liberation Sans&quot;,sans-serif;font-size:8.8px;font-weight:normal" fill="#262626" stroke="#262626" stroke-width="0.18" textLength="9.40" lengthAdjust="spacingAndGlyphs">0.4</text>
<text x="331.00" y="155.94" text-anchor="end" style="font-family:&quot;Liberation Sans&quot;,sans-serif;font-size:8.8px;font-weight:normal" fill="#262626" stroke="#262626" stroke-width="0.18" textLength="9.20" lengthAdjust="spacingAndGlyphs">0.4</text>
<text x="454.52" y="233.00" text-anchor="middle" style="font-family:&quot;Liberation Sans&quot;,sans-serif;font-size:8.8px;font-weight:normal" fill="#262626" stroke="#262626" stroke-width="0.18" textLength="9.40" lengthAdjust="spacingAndGlyphs">0.6</text>
<text x="331.00" y="121.96" text-anchor="end" style="font-family:&quot;Liberation Sans&quot;,sans-serif;font-size:8.8px;font-weight:normal" fill="#262626" stroke="#262626" stroke-width="0.18" textLength="9.20" lengthAdjust="spacingAndGlyphs">0.6</text>
<text x="494.26" y="233.00" text-anchor="middle" style="font-family:&quot;Liberation Sans&quot;,sans-serif;font-size:8.8px;font-weight:normal" fill="#262626" stroke="#262626" stroke-width="0.18" textLength="9.40" lengthAdjust="spacingAndGlyphs">0.8</text>
<text x="331.00" y="87.98" text-anchor="end" style="font-family:&quot;Liberation Sans&quot;,sans-serif;font-size:8.8px;font-weight:normal" fill="#262626" stroke="#262626" stroke-width="0.18" textLength="9.20" lengthAdjust="spacingAndGlyphs">0.8</text>
<text x="534.00" y="233.00" text-anchor="middle" style="font-family:&quot;Liberation Sans&quot;,sans-serif;font-size:8.8px;font-weight:normal" fill="#262626" stroke="#262626" stroke-width="0.18" textLength="9.40" lengthAdjust="spacingAndGlyphs">1.0</text>
<text x="331.00" y="54.00" text-anchor="end" style="font-family:&quot;Liberation Sans&quot;,sans-serif;font-size:8.8px;font-weight:normal" fill="#262626" stroke="#262626" stroke-width="0.18" textLength="9.20" lengthAdjust="spacingAndGlyphs">1.0</text>
<text x="434.50" y="244.40" text-anchor="middle" style="font-family:&quot;Liberation Sans&quot;,sans-serif;font-size:8.2px;font-weight:normal" fill="#262626" stroke="#262626" stroke-width="0.18" textLength="55.10" lengthAdjust="spacingAndGlyphs">False Positive Rate</text>
<text transform="translate(318.2,169.2) rotate(-90)" x="0" y="0" style="font-family:&quot;Liberation Sans&quot;,sans-serif;font-size:7.3px" fill="#262626" stroke="#262626" stroke-width="0.18" textLength="73.6" lengthAdjust="spacingAndGlyphs">True Positive Rate</text>
<text x="400.20" y="32.80" text-anchor="start" style="font-family:&quot;Liberation Serif&quot;,serif;font-size:8.4px;font-weight:normal" fill="#1a1a1a" stroke="#1a1a1a" stroke-width="0.2" textLength="46.80" lengthAdjust="spacingAndGlyphs">ROC Curves</text>
</svg>
</body></html>
